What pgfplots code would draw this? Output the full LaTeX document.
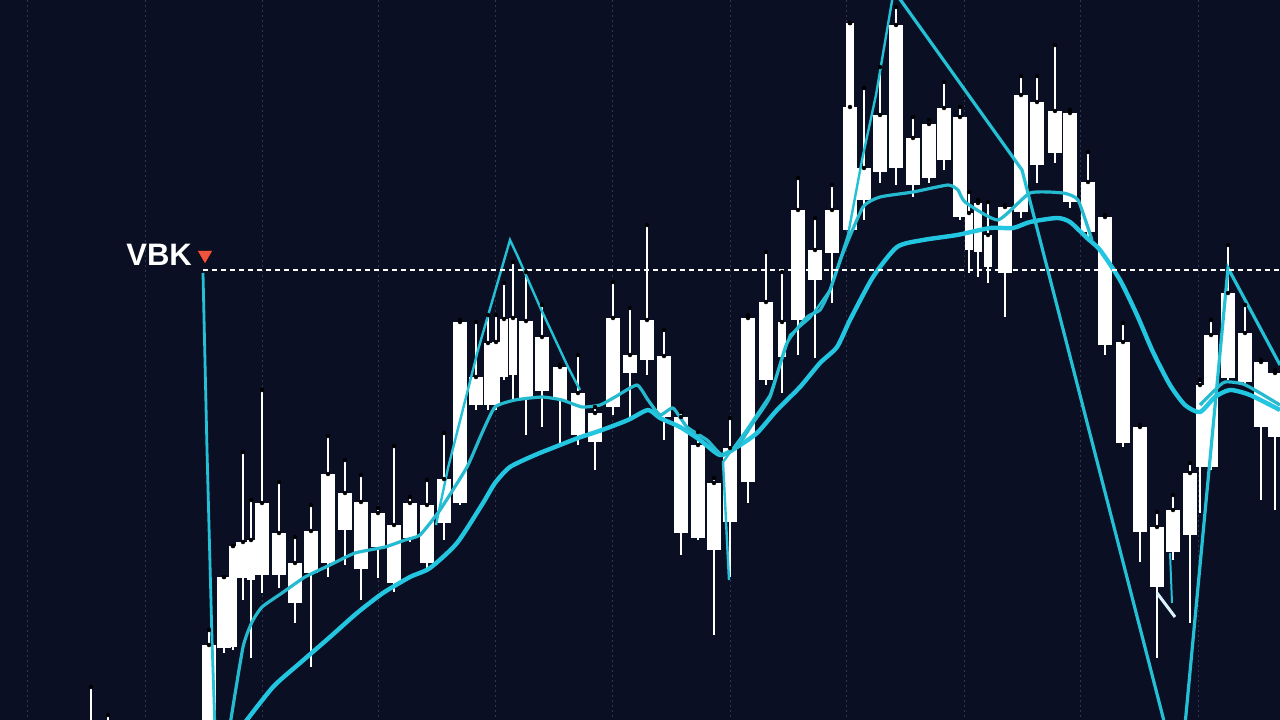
\documentclass[border=0pt]{standalone}
\usepackage{fontspec}
\setmainfont{Liberation Sans}
\usepackage{pgfplots}
\usepackage{pgfplotstable}
\pgfplotsset{compat=1.18}

\definecolor{bg}{RGB}{11,15,36}
\definecolor{gridc}{RGB}{48,54,80}
\definecolor{maslow}{RGB}{34,198,224}
\definecolor{mafast}{RGB}{38,186,208}
\definecolor{zz}{RGB}{36,192,214}
\definecolor{tri}{RGB}{240,84,62}

% candles in screen pixels: x, body top, body bottom, wick top, wick bottom
\pgfplotstableread{
x bt bb hi lo
91 730 760 687 770
108 730 760 715 770
209 645 740 630 760
224 577 648 577 653
243 542 578 452 600
262 503 575 390 593
279 533 575 482 588
295 563 603 537 623
311 531 573 505 667
328 474 563 436 577
345 493 530 460 565
361 502 569 475 600
378 513 547 508 578
394 525 583 446 592
410 503 538 497 542
427 505 563 480 572
444 479 523 433 540
460 322 503 320 505
476 377 405 322 410
526 321 398 272 435
542 337 391 305 427
560 367 400 365 443
578 393 435 355 445
595 413 442 407 470
613 318 407 282 415
630 355 373 308 417
647 320 360 225 375
664 356 417 330 440
681 417 533 412 555
698 445 538 432 540
714 483 550 478 635
730 448 522 418 577
748 318 482 315 503
766 302 380 252 385
798 210 320 178 355
815 250 280 218 358
832 210 253 185 303
850 107 230 23 235
864 168 200 88 220
880 115 172 67 183
896 25 168 7 185
913 138 185 117 197
929 124 178 120 183
944 108 160 82 170
960 117 217 107 220
1005 207 273 205 317
1021 95 212 76 218
1037 102 165 76 183
1055 111 153 45 163
1070 113 202 110 208
1088 182 232 152 237
1105 217 345 215 355
1123 342 443 323 447
1140 427 532 425 562
1157 527 587 512 658
1173 510 552 495 560
1190 473 535 463 623
1211 335 467 320 470
1228 293 378 245 380
1245 333 382 305 385
1261 362 427 360 500
1275 373 437 370 510
}\wide

\pgfplotstableread{
x bt bb hi lo
233 546 647 546 650
251 540 580 500 658
488 343 405 315 410
496 342 405 315 410
504 319 377 283 380
513 318 375 262 400
782 322 357 272 393
850 23 107 23 107
969 213 250 192 273
978 203 252 200 277
988 235 267 202 283
1200 385 467 380 513
}\narrow

\begin{document}
\begin{tikzpicture}
\begin{axis}[
    width=1280pt, height=720pt, scale only axis,
    xmin=0, xmax=1280, ymin=0, ymax=720,
    y dir=reverse,
    hide axis,
    clip=true,
]

\fill[bg] (axis cs:0,0) rectangle (axis cs:1280,720);

% faint vertical grid
\addplot[ycomb, gridc, line width=0.9pt, dash pattern=on 2pt off 3pt] coordinates {
    (27,720) (145,720) (262,720) (378,720) (495,720) (612,720)
    (730,720) (846,720) (964,720) (1080,720) (1198,720)
};

% wicks
\addplot[only marks, mark=none,
    error bars/.cd, y dir=plus, y explicit, error mark=none,
    error bar style={draw=white, line width=2.8pt}]
    table[x=x, y=hi, y error plus expr=\thisrow{lo}-\thisrow{hi}] {\wide};
\addplot[only marks, mark=none,
    error bars/.cd, y dir=plus, y explicit, error mark=none,
    error bar style={draw=white, line width=2.5pt}]
    table[x=x, y=hi, y error plus expr=\thisrow{lo}-\thisrow{hi}] {\narrow};

% bodies
\addplot[only marks, mark=none,
    error bars/.cd, y dir=plus, y explicit, error mark=none,
    error bar style={draw=white, line width=14pt}]
    table[x=x, y=bt, y error plus expr=\thisrow{bb}-\thisrow{bt}] {\wide};
\addplot[only marks, mark=none,
    error bars/.cd, y dir=plus, y explicit, error mark=none,
    error bar style={draw=white, line width=8.5pt}]
    table[x=x, y=bt, y error plus expr=\thisrow{bb}-\thisrow{bt}] {\narrow};

% slow average
\addplot[maslow, line width=4.4pt, smooth, tension=0.4, line join=round] coordinates {
    (243,725) (273,687) (300,663) (330,637) (357,613) (383,593) (410,577)
    (430,568) (457,543) (483,503) (495,483) (510,467) (535,455) (555,447)
    (578,438) (602,430) (628,420) (648,410) (660,418) (680,427) (700,440)
    (720,455) (737,447) (757,433) (777,410) (800,387) (820,363) (837,347)
    (850,320) (873,277) (897,247) (923,240) (957,235) (990,228) (1013,228)
    (1030,222) (1057,218) (1070,222) (1087,238) (1100,250) (1120,280)
    (1137,315) (1153,352) (1170,385) (1185,405) (1200,412) (1215,397)
    (1230,390) (1250,395) (1280,410)
};

% fast average
\addplot[mafast, line width=3.2pt, smooth, tension=0.3, line join=round] coordinates {
    (230,725) (243,647) (252,622) (262,607) (282,593) (305,577) (330,565)
    (355,553) (385,547) (405,540) (420,535) (440,510) (467,467) (482,433)
    (495,407) (515,400) (542,397) (562,400) (582,407) (600,405) (615,397)
    (637,385) (648,400) (660,415) (673,408) (687,427) (707,440) (722,455)
    (737,447) (753,423) (770,397) (787,343) (807,317) (820,310) (830,290)
    (843,253) (863,207) (880,197) (913,192) (948,185) (958,190) (965,202)
    (998,220) (1030,193) (1063,193) (1078,200) (1092,240)
};
\addplot[mafast, line width=3.2pt, smooth, tension=0.4] coordinates {
    (1200,405) (1215,390) (1225,382) (1243,384) (1260,393) (1280,405)
};

% zigzag legs
\addplot[zz, line width=2.8pt] coordinates {(203,273) (207,450) (212,640) (216,760)};
\addplot[zz, line width=2.4pt] coordinates {
    (436,525) (448,468) (478,350) (510,240) (518,257) (540,307) (568,367) (580,390)
};
\addplot[zz, line width=2.4pt] coordinates {
    (729,580) (723,462) (745,432) (770,395) (790,335) (810,318) (830,290)
    (848,235) (862,160) (876,95) (893,-5)
};
\addplot[zz, line width=3.2pt] coordinates {(897,-5) (1022,170) (1165,725)};
\addplot[zz, line width=3.2pt] coordinates {(1185,725) (1228,268) (1280,365)};
\addplot[zz, line width=2pt] coordinates {(1170,553) (1172,603)};
\addplot[white!85!cyan, line width=3pt] coordinates {(1157,593) (1175,617)};

% level line
\addplot[white, line width=1.9pt, dash pattern=on 5pt off 4pt] coordinates {(203,270) (1280,270)};

\addplot[only marks, mark=triangle*, mark size=9pt,
    mark options={rotate=180, fill=tri, draw=none}] coordinates {(205,255)};

\node[anchor=base east, text=white, font=\fontsize{31}{31}\selectfont\bfseries,
    inner sep=0pt] at (axis cs:192,265) {VBK};

\end{axis}
\end{tikzpicture}
\end{document}
